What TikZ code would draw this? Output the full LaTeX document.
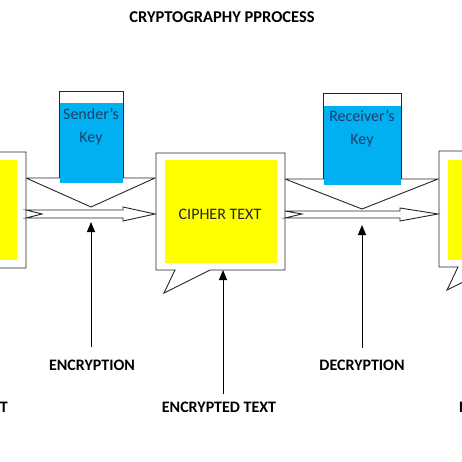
\documentclass[tikz,border=0pt]{standalone}
\usepackage{fontspec}
\setmainfont{Carlito}
\usetikzlibrary{arrows.meta}
\definecolor{keyblue}{HTML}{00B0F0}
\definecolor{keytext}{HTML}{1B3F6B}
\definecolor{boxyellow}{HTML}{FFFF00}
\definecolor{linegray}{HTML}{262626}
\tikzset{
  frame/.style={draw=linegray, line width=0.9pt, fill=white, line join=miter},
  yel/.style={fill=boxyellow, draw=none},
  blu/.style={fill=keyblue, draw=none},
  lbl/.style={font=\fontsize{16}{19}\selectfont\bfseries, text=black, inner sep=0pt},
  titlelbl/.style={font=\fontsize{16.5}{19}\selectfont\bfseries, text=black, inner sep=0pt},
  keylbl/.style={font=\fontsize{16}{23}\selectfont, text=keytext, align=center, inner sep=0pt},
  boxlbl/.style={font=\fontsize{16}{19}\selectfont, text=linegray, inner sep=0pt},
  uparr/.style={draw=black, line width=1pt, -{Triangle[width=8pt,length=10pt]}},
}
\begin{document}
\begin{tikzpicture}[x=1pt,y=-1pt]
\useasboundingbox (0,0) rectangle (462,462);
\clip (0,0) rectangle (462,462);
\fill[white] (0,0) rectangle (462,462);

% title
\node[titlelbl] (title) at (222,17) {CRYPTOGRAPHY PPROCESS};

% --- key triangles (V shapes) ---
\draw[frame] (26,178) -- (155,178) -- (91,207) -- cycle;
\draw[frame] (285,179) -- (438,179) -- (362,209) -- cycle;

% --- keys ---
\draw[frame] (59,178) -- (59,91) -- (123,91) -- (123,178);
\fill[blu] (60,103) rectangle (123,183);
\node[keylbl] (skey) at (91,127) {Sender’s\\Key};

\draw[frame] (323,179) -- (323,93) -- (401,93) -- (401,179);
\fill[blu] (324,106) rectangle (401,185);
\node[keylbl] (rkey) at (362,129) {Receiver’s\\Key};

% --- callout boxes ---
\draw[frame] (-103,152) -- (26,152) -- (26,268) -- (-49,268) -- (-95,291) -- (-84,268) -- (-103,268) -- cycle;
\fill[yel] (-94,160) rectangle (17,260);
\node[boxlbl] (plainbox) at (-38,213) {PLAIN TEXT};

\draw[frame] (156,153) -- (285,153) -- (285,270) -- (210,270) -- (164,293) -- (175,270) -- (156,270) -- cycle;
\fill[yel] (165,160) rectangle (277,263);
\node[boxlbl] (cipher) at (220,214) {CIPHER TEXT};

\draw[frame] (439,151) -- (568,151) -- (568,267) -- (493,267) -- (447,290) -- (458,267) -- (439,267) -- cycle;
\fill[yel] (448,160) rectangle (559,260);

% --- hollow notched arrows ---
\draw[frame] (26,210) -- (123,210) -- (123,207) -- (155,214) -- (123,221) -- (123,218) -- (26,218) -- (42,214) -- cycle;
\draw[frame] (285,211) -- (400,211) -- (400,208) -- (438,214) -- (400,221) -- (400,218) -- (285,218) -- (302,214) -- cycle;

% --- labels ---
\node[lbl] (enc) at (92,365) {ENCRYPTION};
\node[lbl] (dec) at (362,365) {DECRYPTION};
\node[lbl] (enctext) at (219,407) {ENCRYPTED TEXT};
\node[lbl, anchor=east] (plain) at (8,407) {PLAIN TEXT};
\node[lbl, anchor=west] (plain2) at (459,407) {PLAIN TEXT};

% --- vertical arrows ---
\coordinate (tipenc) at (91,222);
\coordinate (tipct) at (223,270);
\coordinate (tipdec) at (362,225);
\coordinate (encs) at (91,347);
\coordinate (cts) at (223,394);
\coordinate (decs) at (362,348);
\draw[uparr] (encs) -- (tipenc);
\draw[uparr] (cts) -- (tipct);
\draw[uparr] (decs) -- (tipdec);
\end{tikzpicture}
\end{document}
